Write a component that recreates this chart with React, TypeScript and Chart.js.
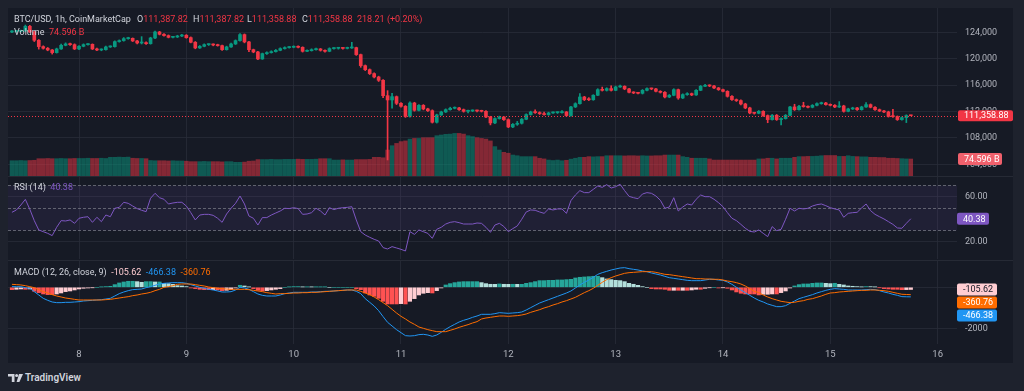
import React, { useEffect, useRef } from "react";
import { Chart, registerables } from "chart.js";
Chart.register(...registerables);

// ---------------- data ----------------
// hour index counted from 8 Oct 00:00 (first candle = 7 Oct 09:00)
const firstHour = -15;
const firstOpen = 124050;
const closes = [
  124100,124150,124200,124910,124050,122790,121830,121580,121320,120920,121480,122030,
  122230,122130,121480,121880,122130,122180,121480,121320,121370,121780,121830,122590,
  122740,123040,123090,122690,122380,122430,122280,123140,124050,123700,123500,123240,
  123290,123440,123550,123190,122490,121630,121880,122130,122130,122080,121980,121370,
  121780,122230,122740,123650,122540,121370,121020,119960,120770,120920,121070,121270,
  121530,121680,121730,121830,121730,121120,121220,121370,121480,121270,121120,121530,
  121580,121580,121560,121630,121680,120620,118950,118340,117740,117230,116730,114400,
  113750,114250,113240,112790,111270,113290,112180,112940,112390,112130,110370,111480,
  111930,112280,112490,112540,112280,112030,112080,112130,112080,112030,111170,110270,
  110920,111170,110770,109660,110060,110220,110820,111530,111930,111830,111680,111530,
  111780,111830,111830,111930,111380,112690,113190,114200,113800,113780,114460,115310,
  115210,115470,115210,115720,115820,115420,114910,114810,114760,115210,115470,115420,
  115060,114910,114200,114460,115310,114050,114560,114710,114510,115210,115820,115970,
  115870,115570,115310,115060,114300,113800,113650,113140,112540,111780,111730,112030,
  111380,110770,111430,110770,110920,111430,112690,112280,112790,112740,112640,112940,
  113190,113290,113040,112940,112690,112840,112030,112390,112540,112280,112690,113040,
  112640,112280,112080,111930,111270,111220,110770,111070,111387.82,111358.88,
];
const highs = [
  124250,124300,124350,125100,125050,124150,122900,121950,121700,121400,121600,122200,
  122400,122350,122250,122000,122250,122300,122250,121600,121500,121900,121950,122700,
  122850,123200,123250,123150,122800,123340,122550,123250,124200,124150,123800,123600,
  123400,123550,123700,123650,123300,122600,122000,122250,122250,122250,122200,122050,
  121900,122350,122850,123800,123750,122650,121450,121100,120850,121050,121200,121400,
  121650,121800,121850,121950,121950,121800,121350,121500,121600,121550,121350,121650,
  121700,121700,121700,121750,122480,121750,120700,119050,118450,117850,117350,116850,
  115160,114760,114350,113350,112900,113450,113400,113050,113050,112500,112250,111600,
  112050,112400,112650,112700,112650,112380,112200,112250,112230,112200,112130,111280,
  111050,111300,111250,110880,110180,110500,110950,111650,112050,112250,111950,111900,
  111900,111950,111950,112150,112000,112800,113320,114700,114300,114100,114550,115450,
  115700,115600,115900,115850,116000,115900,115500,115000,114900,115330,115600,115550,
  115500,115150,115000,114580,115450,115400,114680,114850,114800,115330,115950,116100,
  116050,115950,115650,115400,115150,114400,113900,113750,113250,112650,111880,112150,
  112120,111480,111550,111550,111050,111550,112800,113100,112920,113400,112850,113050,
  113300,113420,113400,113150,113050,113500,112950,112500,112650,112650,112800,113350,
  113150,112750,112380,112180,112050,112340,111330,111180,111500,111387.82,
];
const lows = [
  123950,124000,124050,124100,123950,122600,121450,121450,121200,120700,120850,121400,
  121950,122000,121380,121350,121800,122050,121380,121200,121200,121300,121700,121750,
  122500,122650,122950,122600,122250,122230,122150,122200,123050,123600,123400,123150,
  123150,123200,123350,123100,122400,121500,121550,121800,122000,121950,121900,121250,
  121300,121700,122150,122650,122400,121070,120900,119850,119900,120650,120850,121000,
  121200,121450,121600,121650,121650,121000,121050,121150,121300,121150,121000,121050,
  121450,121450,121450,121480,121550,120500,118700,118200,117600,117100,116550,114100,
  104660,112490,113050,112650,111100,111150,112050,112100,112250,112000,110250,110250,
  111400,111850,112200,112400,112180,111900,111800,111980,111950,111920,111050,109970,
  110150,110850,110650,109550,109550,109900,110100,110750,111450,111720,111550,111450,
  111420,111700,111700,111750,111280,111300,112600,113100,113650,113650,113700,114400,
  115100,115100,115100,115150,115650,115300,114800,114700,114650,114650,115100,115300,
  114950,114800,114050,114100,114380,113850,113950,114450,114400,114430,115150,115750,
  115770,115470,115200,114950,114180,113680,113520,113000,112420,111650,111600,111650,
  111250,110300,110700,110650,109960,110850,111350,112150,112200,112650,112530,112550,
  112850,113100,112950,112850,112580,112600,111900,111950,112300,112180,112200,112600,
  112550,112180,111980,111830,111150,111100,110650,110680,110320,111358.88,
];
// 24h volume, billions USD
const volumes = [
  67,67,68,67,68,69,76,76,77,76,76,77,
  76,76,77,77,77,78,77,77,78,77,82,82,
  83,82,83,78,77,77,76,68,67,67,67,66,
  67,66,66,65,63,63,63,64,63,63,63,62,
  63,63,60,60,61,65,66,72,72,72,73,72,
  72,73,73,73,74,73,73,73,74,76,76,76,
  70,70,71,70,70,72,72,72,73,82,82,80,
  114,133,143,151,154,162,165,165,168,168,168,177,
  180,183,184,187,187,184,177,173,168,165,162,154,
  129,114,104,100,92,89,85,85,85,85,78,75,
  70,68,70,67,69,74,78,82,82,85,84,85,
  85,89,89,89,89,88,89,89,88,89,88,88,
  89,89,92,92,92,92,85,82,78,78,78,78,
  75,70,70,70,70,70,70,70,70,70,70,75,
  75,78,78,75,78,78,78,82,85,85,86,86,
  87,89,90,90,90,86,86,89,86,85,84,84,
  82,82,81,81,78,78,77,76,75,74.596,
];
const rsiValues = [
  46.1,48.2,52.6,57.6,48.8,38.7,30.4,28.9,27.4,25.4,32.8,38.7,
  38.4,39.3,36.3,40.8,41.7,42.2,37.2,41.7,37.8,43.7,42.2,49.7,
  50.5,55.0,54.1,51.7,49.4,47.9,46.7,58.6,63.0,59.1,57.7,53.5,
  54.4,55.0,55.0,51.7,45.8,39.3,43.7,44.3,44.3,43.4,40.8,37.2,
  44.6,49.7,54.1,60.6,53.5,42.8,40.8,34.8,41.4,41.4,43.7,45.5,
  47.3,49.7,49.4,50.2,49.4,44.3,44.6,45.8,49.7,47.3,43.7,50.2,
  48.5,49.7,50.2,50.5,51.1,39.3,28.9,25.9,23.9,22.1,20.6,14.7,
  13.5,15.6,14.4,13.2,11.7,28.9,26.5,30.4,28.9,27.4,23.0,31.0,
  32.8,35.7,37.2,37.8,36.9,35.7,35.7,35.7,36.6,36.3,32.8,28.3,
  34.8,36.3,33.5,28.9,31.6,34.0,39.9,46.4,48.2,47.9,46.4,45.2,
  49.1,48.2,49.1,49.1,45.2,56.5,61.5,65.4,63.6,63.6,66.5,69.5,
  68.3,70.7,67.7,68.9,71.0,65.4,60.3,59.1,58.2,62.4,63.6,63.0,
  60.6,56.8,49.7,50.8,59.1,47.3,50.8,53.5,52.6,57.7,61.5,60.0,
  60.0,57.7,54.7,51.1,45.8,40.8,38.7,35.4,31.9,29.2,28.6,30.4,
  27.4,24.5,33.4,29.8,31.0,39.9,49.7,47.3,49.7,49.1,49.7,51.7,
  52.9,53.5,52.0,50.2,49.1,48.2,41.7,45.2,45.8,46.1,50.0,53.5,
  47.6,44.3,42.2,40.2,37.8,35.4,32.2,31.9,36.3,40.38,
];
const macdValues = [
  31,31,31,-18,-50,-213,-375,-538,-635,-717,-749,-749,
  -733,-733,-717,-701,-668,-652,-635,-619,-603,-570,-538,-424,
  -310,-229,-164,-115,-99,-83,-18,31,96,161,194,210,
  226,226,226,194,129,64,-1,-50,-99,-131,-180,-229,
  -229,-213,-131,-1,-34,-99,-213,-327,-392,-424,-424,-424,
  -375,-310,-278,-245,-245,-245,-245,-229,-229,-213,-196,-196,
  -180,-164,-148,-131,-131,-196,-310,-554,-733,-912,-1140,-1432,
  -1709,-1887,-2066,-2213,-2359,-2375,-2359,-2310,-2294,-2327,-2392,-2327,
  -2196,-2050,-1920,-1806,-1692,-1611,-1546,-1465,-1400,-1318,-1318,-1318,
  -1286,-1237,-1253,-1270,-1253,-1237,-1205,-1107,-993,-879,-766,-684,
  -603,-522,-440,-359,-278,-180,-34,113,243,356,487,633,
  714,779,844,893,942,958,909,877,844,795,763,698,
  649,600,535,470,438,405,373,340,324,324,324,356,
  389,389,356,340,259,145,-1,-131,-262,-392,-522,-635,
  -717,-814,-879,-944,-944,-896,-782,-668,-554,-489,-424,-359,
  -278,-213,-148,-99,-66,-83,-99,-131,-131,-131,-131,-115,
  -99,-115,-164,-229,-278,-343,-392,-455,-462,-466.38,
];
const signalValues = [
  145,129,113,80,31,-18,-115,-213,-278,-359,-424,-473,
  -522,-554,-587,-619,-619,-619,-619,-619,-619,-603,-587,-554,
  -522,-489,-457,-408,-375,-327,-294,-245,-164,-99,-1,31,
  80,145,161,161,161,129,96,64,15,-18,-50,-66,
  -83,-99,-99,-99,-99,-115,-148,-180,-213,-262,-294,-327,
  -310,-310,-294,-278,-278,-262,-262,-245,-245,-229,-213,-196,
  -180,-164,-148,-131,-131,-131,-196,-278,-359,-473,-603,-749,
  -896,-1074,-1253,-1416,-1546,-1692,-1806,-1936,-2001,-2066,-2115,-2164,
  -2164,-2164,-2099,-2034,-1953,-1887,-1822,-1741,-1676,-1546,-1497,-1465,
  -1432,-1400,-1400,-1416,-1400,-1383,-1351,-1302,-1221,-1156,-1091,-1009,
  -944,-863,-798,-717,-652,-570,-489,-375,-262,-164,-50,96,
  243,373,470,552,617,682,714,730,747,763,763,763,
  730,682,633,617,584,552,519,487,454,421,421,405,
  405,389,389,356,308,275,226,161,64,-66,-196,-262,
  -375,-473,-554,-619,-684,-717,-749,-733,-684,-652,-587,-554,
  -489,-424,-343,-278,-262,-229,-213,-196,-180,-164,-148,-148,
  -131,-131,-148,-164,-196,-245,-294,-340,-350,-360.76,
];
const dayTickHours = [0, 24, 48, 72, 96, 120, 144, 168, 192];
const dayTickLabels = ["8", "9", "10", "11", "12", "13", "14", "15", "16"];
const priceTicks = [104000, 108000, 112000, 116000, 120000, 124000];
const rsiTicks = [20, 60];
const rsiBands = [70, 50, 30];
const macdTicks = [-2000, 0];
const symbolTitle = "BTC/USD, 1h, CoinMarketCap";
const changeText = "218.21 (+0.20%)";

// ---------------- style / layout ----------------
const FONT = "Roboto, 'Noto Sans', Arial, sans-serif";
const OUTER_BG = "#1e222d";
const INNER_BG = "#161a25";
const GRID = "rgba(42,46,57,0.75)";
const AXIS_TEXT = "#b2b5be";
const UP = "#089981";
const DOWN = "#f23645";
const X_MIN = -15.88;
const X_MAX = 196.33;

const hours = closes.map((_, i) => firstHour + i);
const opens = closes.map((c, i) => (i === 0 ? firstOpen : closes[i - 1]));
const isUp = closes.map((c, i) => c >= opens[i]);
const hist = macdValues.map((m, i) => m - signalValues[i]);
const histColors = hist.map((v, i) => {
  const p = i > 0 ? hist[i - 1] : v;
  if (v >= 0) return v >= p ? "#26a69a" : "#b2dfdb";
  return v <= p ? "#ff5252" : "#ffcdd2";
});
const last = closes.length - 1;
const fmt2 = (v: number) =>
  v.toLocaleString("en-US", { minimumFractionDigits: 2, maximumFractionDigits: 2 });

function tag(ctx: any, x: number, yc: number, w: number, h: number, bg: string, fg: string, text: string) {
  ctx.save();
  ctx.fillStyle = bg;
  ctx.beginPath();
  if (ctx.roundRect) ctx.roundRect(x, yc - h / 2, w, h, 2);
  else ctx.rect(x, yc - h / 2, w, h);
  ctx.fill();
  ctx.fillStyle = fg;
  ctx.font = `9px ${FONT}`;
  ctx.textBaseline = "middle";
  ctx.textAlign = "left";
  ctx.fillText(text, x + 6, yc + 0.5);
  ctx.restore();
}

const xScale = (labels: boolean) => ({
  type: "linear",
  min: X_MIN,
  max: X_MAX,
  offset: false,
  grid: { color: GRID, drawTicks: false, offset: false },
  border: { display: false },
  ticks: labels
    ? {
        color: AXIS_TEXT,
        font: { family: FONT, size: 9.5 },
        padding: 5,
        maxRotation: 0,
        autoSkip: false,
        callback: (v: any) => {
          const i = dayTickHours.indexOf(Number(v));
          return i >= 0 ? dayTickLabels[i] : "";
        },
      }
    : { display: false },
  afterBuildTicks: (s: any) => {
    s.ticks = dayTickHours.map((v) => ({ value: v }));
  },
  afterFit: (s: any) => {
    s.height = labels ? 19 : 0;
    s.paddingLeft = 0;
    s.paddingRight = 0;
    s.paddingTop = 0;
    s.paddingBottom = 0;
  },
});

const yRight = (min: number, max: number, ticks: number[], fmt: (v: number) => string) => ({
  type: "linear",
  position: "right",
  min,
  max,
  grid: { color: GRID, drawTicks: false },
  border: { display: false },
  ticks: {
    color: AXIS_TEXT,
    font: { family: FONT, size: 9 },
    padding: 8,
    callback: (v: any) => fmt(Number(v)),
  },
  afterBuildTicks: (s: any) => {
    s.ticks = ticks.map((v) => ({ value: v }));
  },
  afterFit: (s: any) => {
    s.width = 56;
    s.paddingTop = 0;
    s.paddingBottom = 0;
    s.paddingLeft = 0;
    s.paddingRight = 0;
  },
});

const baseOptions = {
  responsive: false,
  animation: false,
  devicePixelRatio: 1,
  events: [],
  layout: { padding: 0 },
  plugins: { legend: { display: false }, tooltip: { enabled: false } },
};

export default function App() {
  const priceRef = useRef<HTMLCanvasElement>(null);
  const rsiRef = useRef<HTMLCanvasElement>(null);
  const macdRef = useRef<HTMLCanvasElement>(null);

  useEffect(() => {
    document.body.style.margin = "0";
    document.body.style.background = OUTER_BG;

    const price = new Chart(priceRef.current as any, {
      type: "bar",
      data: {
        datasets: [
          {
            label: "volume",
            yAxisID: "yv",
            data: hours.map((h, i) => ({ x: h, y: volumes[i] })),
            backgroundColor: isUp.map((u) => (u ? "rgba(8,153,129,0.5)" : "rgba(242,54,69,0.5)")),
            barThickness: 3.8,
            grouped: false,
            order: 3,
          },
          {
            label: "wick",
            yAxisID: "y",
            data: hours.map((h, i) => ({ x: h, y: [lows[i], highs[i]] })),
            backgroundColor: isUp.map((u) => (u ? UP : DOWN)),
            barThickness: 1,
            grouped: false,
            order: 2,
          },
          {
            label: "body",
            yAxisID: "y",
            data: hours.map((h, i) => ({ x: h, y: [opens[i], closes[i]] })),
            backgroundColor: isUp.map((u) => (u ? UP : DOWN)),
            barThickness: 3,
            minBarLength: 1,
            grouped: false,
            order: 1,
          },
        ] as any,
      },
      options: {
        ...baseOptions,
        scales: {
          x: xScale(false),
          y: yRight(102229, 127681, priceTicks, (v) => v.toLocaleString("en-US")),
          yv: { display: false, min: 0, max: 737.5 },
        } as any,
      } as any,
      plugins: [
        {
          id: "priceMarks",
          afterDatasetsDraw(chart: any) {
            const { ctx, chartArea, scales } = chart;
            const y = Math.round(scales.y.getPixelForValue(closes[last])) + 0.5;
            ctx.save();
            ctx.strokeStyle = DOWN;
            ctx.lineWidth = 1;
            ctx.setLineDash([1, 2]);
            ctx.beginPath();
            ctx.moveTo(chartArea.left, y);
            ctx.lineTo(chartArea.right, y);
            ctx.stroke();
            ctx.restore();
          },
          afterDraw(chart: any) {
            const { ctx, chartArea, scales } = chart;
            const y = scales.y.getPixelForValue(closes[last]);
            tag(ctx, chartArea.right + 1, y, 55, 11, DOWN, "#ffffff", fmt2(closes[last]));
            const yv = scales.yv.getPixelForValue(volumes[last]);
            tag(ctx, chartArea.right + 1, yv, 44, 12, "#f0606c", "#ffffff", `${volumes[last].toFixed(3)} B`);
          },
        },
      ],
    });

    const rsi = new Chart(rsiRef.current as any, {
      type: "line",
      data: {
        datasets: [
          {
            data: hours.map((h, i) => ({ x: h, y: rsiValues[i] })),
            borderColor: "#7e57c2",
            borderWidth: 1,
            pointRadius: 0,
            tension: 0,
            fill: false,
          },
        ],
      },
      options: {
        ...baseOptions,
        scales: {
          x: xScale(false),
          y: yRight(4.6, 77.5, rsiTicks, (v) => v.toFixed(2)),
        } as any,
      } as any,
      plugins: [
        {
          id: "rsiBands",
          beforeDatasetsDraw(chart: any) {
            const { ctx, chartArea, scales } = chart;
            const yTop = scales.y.getPixelForValue(rsiBands[0]);
            const yBot = scales.y.getPixelForValue(rsiBands[2]);
            ctx.save();
            ctx.fillStyle = "rgba(126,87,194,0.1)";
            ctx.fillRect(chartArea.left, yTop, chartArea.right - chartArea.left, yBot - yTop);
            ctx.strokeStyle = "rgba(120,123,134,0.75)";
            ctx.lineWidth = 1;
            ctx.setLineDash([3, 2]);
            rsiBands.forEach((b) => {
              const y = Math.round(scales.y.getPixelForValue(b)) + 0.5;
              ctx.beginPath();
              ctx.moveTo(chartArea.left, y);
              ctx.lineTo(chartArea.right, y);
              ctx.stroke();
            });
            ctx.restore();
          },
          afterDraw(chart: any) {
            const { ctx, chartArea, scales } = chart;
            const y = scales.y.getPixelForValue(rsiValues[last]);
            tag(ctx, chartArea.right, y, 32, 12, "#7e57c2", "#ffffff", rsiValues[last].toFixed(2));
          },
        },
      ],
    });

    const macd = new Chart(macdRef.current as any, {
      type: "bar",
      data: {
        datasets: [
          {
            type: "line",
            data: hours.map((h, i) => ({ x: h, y: signalValues[i] })),
            borderColor: "#ff6d00",
            borderWidth: 1,
            pointRadius: 0,
            tension: 0,
            order: 0,
          },
          {
            type: "line",
            data: hours.map((h, i) => ({ x: h, y: macdValues[i] })),
            borderColor: "#2196f3",
            borderWidth: 1,
            pointRadius: 0,
            tension: 0,
            order: 1,
          },
          {
            type: "bar",
            data: hours.map((h, i) => ({ x: h, y: hist[i] })),
            backgroundColor: histColors,
            barThickness: 3.5,
            grouped: false,
            order: 2,
          },
        ] as any,
      },
      options: {
        ...baseOptions,
        scales: {
          x: xScale(true),
          y: yRight(-2766, 1283, macdTicks, (v) => String(v)),
        } as any,
      } as any,
      plugins: [
        {
          id: "macdTags",
          afterDraw(chart: any) {
            const { ctx, chartArea, scales } = chart;
            const items = [
              { v: hist[last], bg: "#ffcdd2", fg: "#131722" },
              { v: signalValues[last], bg: "#ff6d00", fg: "#ffffff" },
              { v: macdValues[last], bg: "#2196f3", fg: "#ffffff" },
            ]
              .map((it) => ({ ...it, y: scales.y.getPixelForValue(it.v) }))
              .sort((a, b) => a.y - b.y);
            let prev = -1e9;
            items.forEach((it) => {
              const y = Math.max(it.y, prev + 13);
              prev = y;
              tag(ctx, chartArea.right, y, 40, 12, it.bg, it.fg, it.v.toFixed(2));
            });
          },
        },
      ],
    });

    return () => {
      price.destroy();
      rsi.destroy();
      macd.destroy();
    };
  }, []);

  const abs = (o: any) => ({ position: "absolute", ...o }) as React.CSSProperties;
  const txt = (left: number, top: number, extra: any = {}) =>
    abs({ left, top, fontSize: 9, lineHeight: "12px", whiteSpace: "pre", fontFamily: FONT, color: "#d1d4dc", ...extra });
  const red = { color: DOWN };

  return (
    <div style={abs({ left: 0, top: 0, width: 1024, height: 391, background: OUTER_BG, overflow: "hidden", fontFamily: FONT })}>
      <div style={abs({ left: 8, top: 8, width: 1005, height: 355, background: INNER_BG })} />
      <canvas ref={priceRef} width={1005} height={168} style={abs({ left: 8, top: 8, width: 1005, height: 168 })} />
      <div style={abs({ left: 8, top: 176, width: 1005, height: 1, background: "#262a35" })} />
      <canvas ref={rsiRef} width={1005} height={82} style={abs({ left: 8, top: 177, width: 1005, height: 82 })} />
      <div style={abs({ left: 8, top: 260, width: 1005, height: 1, background: "#262a35" })} />
      <canvas ref={macdRef} width={1005} height={102} style={abs({ left: 8, top: 261, width: 1005, height: 102 })} />

      <div style={txt(14, 13)}>{symbolTitle}</div>
      <div style={txt(137, 13)}>O<span style={red}>{fmt2(opens[last])}</span></div>
      <div style={txt(193, 13)}>H<span style={red}>{fmt2(highs[last])}</span></div>
      <div style={txt(247, 13)}>L<span style={red}>{fmt2(lows[last])}</span></div>
      <div style={txt(302, 13)}>C<span style={red}>{fmt2(closes[last])}</span></div>
      <div style={txt(357, 13, red)}>{changeText}</div>
      <div style={txt(14, 26)}>Volume<span style={red}>{"  " + volumes[last].toFixed(3) + " B"}</span></div>

      <div style={txt(14, 181)}>RSI (14)<span style={{ color: "#7e57c2" }}>{"  " + rsiValues[last].toFixed(2)}</span></div>

      <div style={txt(14, 266)}>
        MACD (12, 26, close, 9)
        <span style={{ color: "#ffcdd2" }}>{"  " + hist[last].toFixed(2)}</span>
        <span style={{ color: "#2196f3" }}>{"  " + macdValues[last].toFixed(2)}</span>
        <span style={{ color: "#ff6d00" }}>{"  " + signalValues[last].toFixed(2)}</span>
      </div>

      <svg style={abs({ left: 8, top: 374 })} width="15" height="8" viewBox="0 0 15 8">
        <path d="M0 0h6.5v8H3.8V2.6H0z" fill="#d1d4dc" />
        <circle cx="8.6" cy="1.6" r="1.5" fill="#d1d4dc" />
        <path d="M11 0h4l-3.6 8H8.6z" fill="#d1d4dc" />
      </svg>
      <div style={txt(25, 372, { fontSize: 10, fontWeight: 600 })}>TradingView</div>
    </div>
  );
}
